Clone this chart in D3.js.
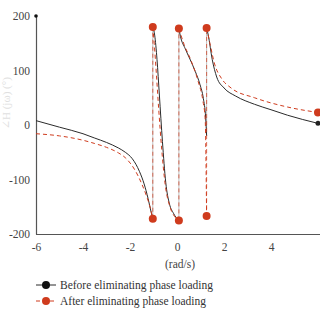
<!DOCTYPE html>
<html>
<head>
<meta charset="utf-8">
<style>
body{margin:0;background:#fff;}
</style>
</head>
<body>
<script src="https://cdn.jsdelivr.net/npm/d3@7"></script>
<script>
// frequency (rad/s) and phase values; a repeated x is a phase wrap
var beforeX = [-6,-5,-4,-3.5,-3,-2.5,-2.2,-1.9,-1.6,-1.4,-1.23,-1.1,-1.03, -1.03,-0.95,-0.85,-0.75,-0.62,-0.48,-0.32,-0.15,0.08, 0.08,0.15,0.35,0.55,0.78,0.98,1.12,1.22,1.26, 1.26,1.33,1.5,1.69,2.0,2.5,3.3,4.0,4.7,6.0];
var beforeY = [8,-4,-16,-24,-32,-42,-50,-62,-85,-108,-135,-160,-172, 180,165,120,55,-30,-105,-145,-162,-176, 177,162,140,121,98,74,49,13,-20, 178,165,120,88,68,53,38,28,18,3];
var afterX = [-6,-5,-4,-3.5,-3,-2.5,-2.2,-1.8,-1.5,-1.3,-1.15,-1.03, -1.03,-0.97,-0.88,-0.78,-0.65,-0.5,-0.3,-0.1,0.08, 0.08,0.3,0.6,0.9,1.1,1.2,1.26, 1.26,1.4,1.6,1.9,2.3,3.3,4.7,6.0];
var afterY = [-16,-20,-28,-34,-41,-51,-60,-82,-108,-130,-150,-172, 180,150,95,30,-45,-110,-150,-168,-175, 177,148,118,80,45,10,-167, 178,150,112,85,68,50,33,23];
// wrap end points marked with dots
var dotX = [-1.03,-1.03,0.08,0.08,1.26,1.26,6.0];
var dotY = [180,-172,177,-175,178,-167,23];
var xTicks = [-6,-4,-2,0,2,4];
var yTicks = [-200,-100,0,100,200];
var legendLabels = ["Before eliminating phase loading","After eliminating phase loading"];

var W = 320, H = 320;
var red = "#cf3b1d", dark = "#2b2b2b";
var serif = "'Liberation Serif', 'DejaVu Serif', serif";

var svg = d3.select("body").append("svg").attr("width",W).attr("height",H);

var x = d3.scaleLinear().domain([-6,6]).range([36,318]);
var y = d3.scaleLinear().domain([-200,200]).range([234,16]);

// y axis label (faint)
svg.append("text")
  .attr("transform","translate(10,"+y(40)+") rotate(-90)")
  .attr("text-anchor","middle")
  .style("font-family",serif)
  .attr("font-size",11)
  .attr("fill","#e0e0e0")
  .text("∠H (jω) (°)");

// axes
var fmt = function(d){return String(d);};
var yAxis = d3.axisLeft(y).tickValues(yTicks).tickFormat(fmt).tickSize(0).tickPadding(6);
var gy = svg.append("g").attr("transform","translate("+x(-6)+",0)").call(yAxis);
var xAxis = d3.axisBottom(x).tickValues(xTicks).tickFormat(fmt).tickSize(0).tickPadding(9);
var gx = svg.append("g").attr("transform","translate(0,"+y(-200)+")").call(xAxis);
[gx,gy].forEach(function(g){
  g.attr("font-family",null);
  g.select(".domain").attr("stroke","#555").attr("stroke-width",1.2);
  g.selectAll("text").style("font-family",serif).attr("font-size",11.5).attr("fill","#444");
});
gx.select(".domain").attr("d","M"+x(-6)+",0.5H"+W);
svg.append("circle").attr("cx",x(-6)).attr("cy",y(200)).attr("r",1.8).attr("fill","#111");

svg.append("text").attr("x",180).attr("y",268).attr("text-anchor","middle")
  .style("font-family",serif).attr("font-size",11.5).attr("fill","#444").text("(rad/s)");

// split a series into smooth pieces at the wraps
function pieces(xs, ys){
  var out = [], cur = [];
  for (var i = 0; i < xs.length; i++) {
    if (i > 0 && xs[i] === xs[i-1]) { out.push(cur); cur = []; }
    cur.push([xs[i], ys[i]]);
  }
  out.push(cur);
  return out;
}
var line = d3.line().curve(d3.curveMonotoneX)
  .x(function(d){return x(d[0]);}).y(function(d){return y(d[1]);});

function drawSeries(xs, ys, color, dash, wrapOpacity){
  var ps = pieces(xs, ys);
  var g = svg.append("g").attr("fill","none").attr("stroke",color).attr("stroke-width",1)
    .attr("stroke-dasharray",dash);
  g.selectAll("path").data(ps).enter().append("path").attr("d",line);
  // vertical wrap lines
  for (var i = 1; i < ps.length; i++) {
    var a = ps[i-1][ps[i-1].length-1], b = ps[i][0];
    g.append("line").attr("x1",x(a[0])).attr("x2",x(b[0])).attr("y1",y(a[1])).attr("y2",y(b[1]))
      .attr("stroke-opacity",wrapOpacity);
  }
}
drawSeries(beforeX, beforeY, dark, null, 0.3);
drawSeries(afterX, afterY, red, "4,3", 0.7);

svg.selectAll(".dot").data(d3.zip(dotX,dotY)).enter().append("circle")
  .attr("cx",function(d){return x(d[0]);}).attr("cy",function(d){return y(d[1]);})
  .attr("r",4).attr("fill",red);
svg.append("circle").attr("cx",x(6)).attr("cy",y(3)).attr("r",2.5).attr("fill","#222");

// legend
var lg = svg.selectAll(".lg").data(legendLabels).enter().append("g")
  .attr("transform",function(d,i){return "translate(0,"+(285+i*16)+")";});
lg.append("line").attr("x1",36).attr("x2",56).attr("y1",0).attr("y2",0)
  .attr("stroke",function(d,i){return i? red : dark;})
  .attr("stroke-dasharray",function(d,i){return i? "4,3" : null;})
  .attr("stroke-width",1);
lg.append("circle").attr("cx",46).attr("cy",0).attr("r",4)
  .attr("fill",function(d,i){return i? red : "#111";});
lg.append("text").attr("x",60).attr("y",4).style("font-family",serif)
  .attr("font-size",11.5).attr("fill","#333").text(function(d){return d;});
</script>
</body>
</html>
